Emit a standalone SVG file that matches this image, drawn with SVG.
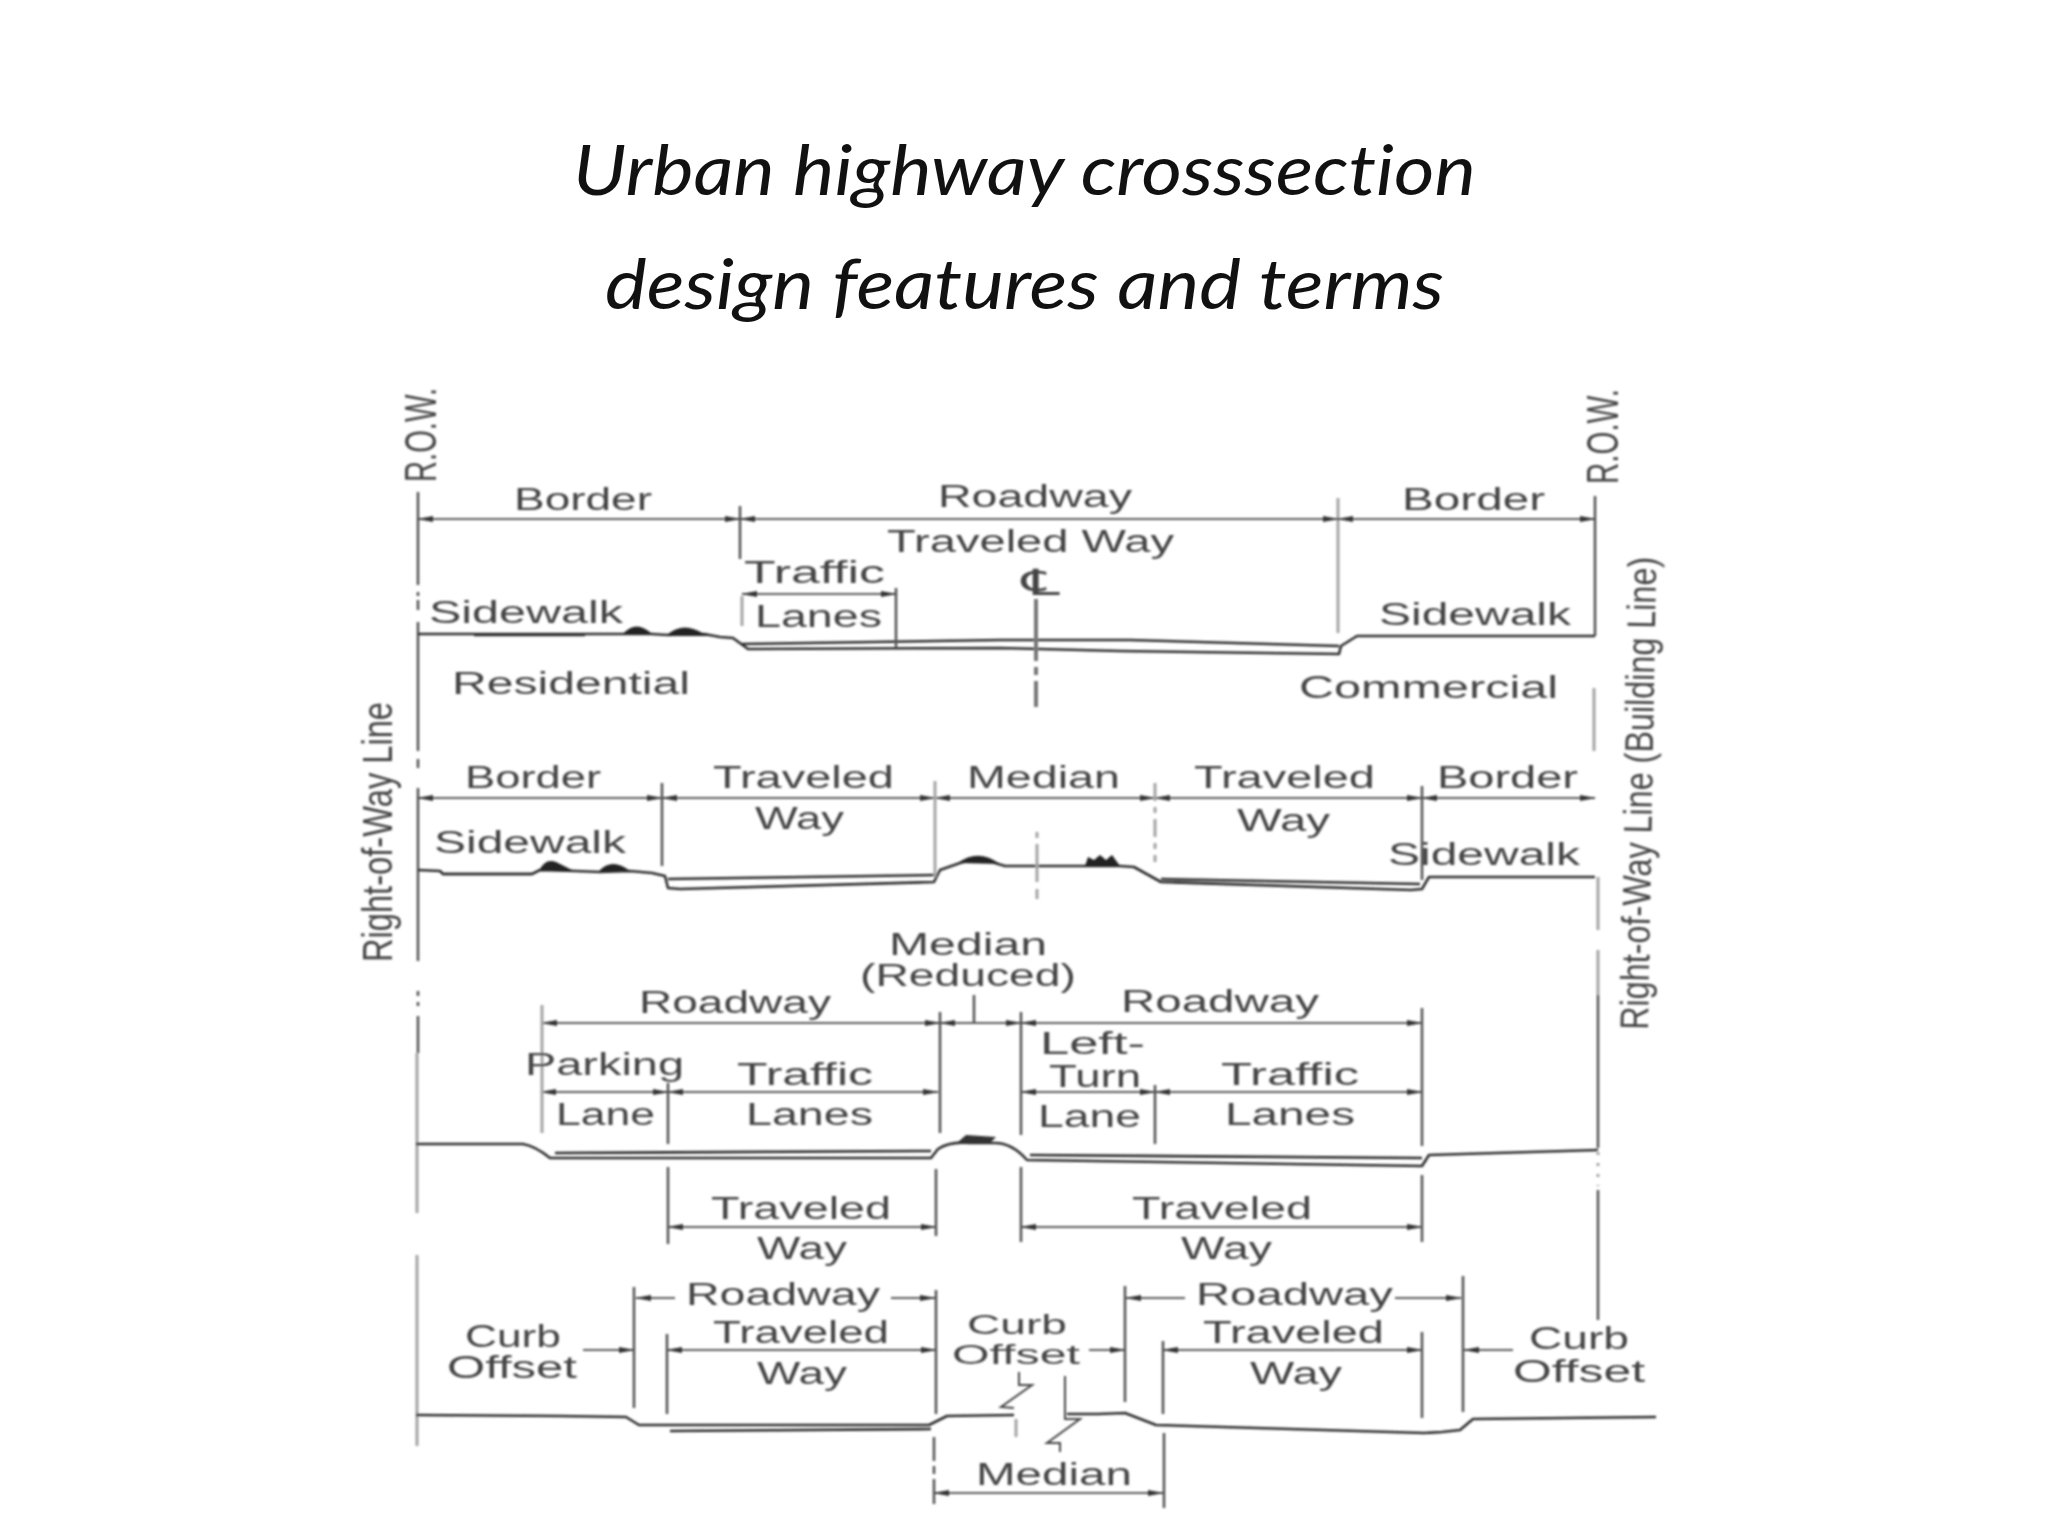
<svg xmlns="http://www.w3.org/2000/svg" width="2048" height="1536" viewBox="0 0 2048 1536">
<style>
.t{font-family:"Liberation Sans",Arial,sans-serif;font-size:31px;fill:#444}
.ti{font-family:Lato,"Open Sans",sans-serif;font-style:italic;font-size:70px;fill:#111;font-variant-ligatures:none}
.g{fill:none;stroke:#2e2e2e;stroke-width:2.6;stroke-linejoin:round}
.d{fill:none;stroke:#5c5c5c;stroke-width:2.2;marker-start:url(#a);marker-end:url(#a)}
.e{fill:none;stroke:#5c5c5c;stroke-width:2.2;marker-end:url(#a)}
.v{fill:none;stroke:#555;stroke-width:2.6}
.l{fill:none;stroke:#a4a4a4;stroke-width:3}
.c{fill:none;stroke:#777;stroke-width:4}
.z{fill:none;stroke:#444;stroke-width:2}
</style>
<defs>
<marker id="a" viewBox="0 0 16 9" refX="15" refY="4.5" markerWidth="16" markerHeight="9" markerUnits="userSpaceOnUse" orient="auto-start-reverse"><path d="M0 1.5L16 4.5L0 7.5Z" fill="#333"/></marker>
<filter id="b" x="-5%" y="-5%" width="110%" height="110%"><feGaussianBlur stdDeviation="1"/></filter>
</defs>
<rect width="2048" height="1536" fill="#fff"/>
<g id="title">
<text class="ti" x="573" y="195" textLength="903" lengthAdjust="spacingAndGlyphs">Urban highway crosssection</text>
<text class="ti" x="605" y="309" textLength="839" lengthAdjust="spacingAndGlyphs">design features and terms</text>
</g>
<g id="drawing" filter="url(#b)">
<g id="row-lines">
<path class="v" d="M418 492V585M418 592V596M418 600V610M418 622V751M418 759V768M418 788V961M418 991V996M418 1002V1006M418 1016V1053"/>
<path class="l" d="M417 1053V1213M417 1255V1446"/>
<path class="v" d="M1595 496V636"/>
<path class="l" d="M1594 688V751M1598 877V930M1598 950V995"/>
<path class="v" d="M1598 995V1148M1598 1190V1320"/>
<path class="l" stroke-dasharray="3 8" d="M1598 1152V1186"/>
</g>
<g id="section-1">
<path class="g" d="M418 634L623 634L652 634L668 635L704 634L720 637L733 638L748 649L1000 648L1120 651L1339 654L1341 646L1357 636L1595 636"/>
<path class="g" d="M742 644L1000 640L1130 640L1339 646"/>
<path fill="#222" d="M623 634Q636 619 652 634ZM668 634Q684 621 704 634L712 636L668 636Z"/>
<path class="g" stroke-width="4" d="M474 635H585"/>
<path class="v" d="M740 506V559M896 588V647"/>
<path class="l" d="M742 596V626M1338 498V633"/>
<path class="d" d="M418 519H740"/>
<path class="d" d="M740 519H1338"/>
<path class="d" d="M1338 519H1595"/>
<path class="d" stroke-width="3" d="M742 594H896"/>
<path class="c" stroke-dasharray="62 6 8 6 26" d="M1036 599V707"/>
<text class="t" x="514" y="510" textLength="138" lengthAdjust="spacingAndGlyphs">Border</text>
<text class="t" x="938" y="507" textLength="194" lengthAdjust="spacingAndGlyphs">Roadway</text>
<text class="t" x="1402" y="510" textLength="143" lengthAdjust="spacingAndGlyphs">Border</text>
<text class="t" x="887" y="552" textLength="287" lengthAdjust="spacingAndGlyphs">Traveled Way</text>
<text class="t" x="744" y="583" textLength="141" lengthAdjust="spacingAndGlyphs">Traffic</text>
<text class="t" x="755" y="627" textLength="127" lengthAdjust="spacingAndGlyphs">Lanes</text>
<text class="t" x="429" y="623" textLength="194" lengthAdjust="spacingAndGlyphs">Sidewalk</text>
<text class="t" x="1379" y="625" textLength="192" lengthAdjust="spacingAndGlyphs">Sidewalk</text>
<text class="t" x="452" y="694" textLength="238" lengthAdjust="spacingAndGlyphs">Residential</text>
<text class="t" x="1299" y="698" textLength="259" lengthAdjust="spacingAndGlyphs">Commercial</text>
<text x="1022" y="595" font-family="'DejaVu Sans',sans-serif" font-size="36" fill="#444" textLength="38" lengthAdjust="spacingAndGlyphs">℄</text>
</g>
<g id="section-2">
<path class="g" d="M418 870L440 871L443 874H532L540 870L575 871L600 872L630 871L652 873L665 876L668 888L680 889L934 882L940 870L960 863L978 858L1005 866L1120 866L1134 867L1161 882L1411 890L1422 889L1429 877L1595 877"/>
<path class="g" d="M668 879L934 875M1161 879L1420 884"/>
<path fill="#222" d="M539 871Q545 858 556 862L574 871ZM599 871Q612 857 630 871ZM958 863Q978 848 1000 864ZM1085 866L1088 857L1094 860L1100 855L1106 860L1112 855L1120 866Z"/>
<path class="g" stroke-width="4" d="M443 874H532"/>
<path class="d" d="M418 798H662"/>
<path class="d" d="M662 798H935"/>
<path class="d" d="M935 798H1155"/>
<path class="d" d="M1155 798H1422"/>
<path class="d" d="M1422 798H1595"/>
<path class="v" d="M662 783V866M1422 786V880"/>
<path class="l" d="M935 781V877"/>
<path class="l" stroke-dasharray="18 6 6 6" d="M1155 783V862"/>
<path class="l" stroke-width="5" stroke-dasharray="6 6 38 7 10" d="M1037 832V899"/>
<text class="t" x="465" y="788" textLength="136" lengthAdjust="spacingAndGlyphs">Border</text>
<text class="t" x="713" y="788" textLength="181" lengthAdjust="spacingAndGlyphs">Traveled</text>
<text class="t" x="755" y="829" textLength="89" lengthAdjust="spacingAndGlyphs">Way</text>
<text class="t" x="967" y="788" textLength="153" lengthAdjust="spacingAndGlyphs">Median</text>
<text class="t" x="1194" y="788" textLength="181" lengthAdjust="spacingAndGlyphs">Traveled</text>
<text class="t" x="1237" y="831" textLength="93" lengthAdjust="spacingAndGlyphs">Way</text>
<text class="t" x="1437" y="788" textLength="141" lengthAdjust="spacingAndGlyphs">Border</text>
<text class="t" x="434" y="853" textLength="192" lengthAdjust="spacingAndGlyphs">Sidewalk</text>
<text class="t" x="1388" y="865" textLength="192" lengthAdjust="spacingAndGlyphs">Sidewalk</text>
</g>
<g id="section-3">
<path class="g" stroke-width="2" d="M416 1144H523Q535 1146 550 1158L931 1158L938 1149Q950 1141 970 1143H995Q1012 1143 1027 1160L1422 1166L1429 1155L1598 1150"/>
<path class="g" d="M555 1153L931 1151M1030 1155L1422 1158"/>
<path fill="#333" d="M958 1142L966 1135L996 1137L990 1143Z"/>
<path class="d" d="M542 1023H940"/>
<path class="d" d="M940 1023H1021"/>
<path class="d" d="M1021 1023H1422"/>
<path class="d" d="M541 1092H668"/>
<path class="d" d="M668 1092H938"/>
<path class="d" d="M1021 1092H1155"/>
<path class="d" d="M1155 1092H1422"/>
<path class="d" d="M668 1227H936"/>
<path class="d" d="M1021 1227H1422"/>
<path class="v" d="M940 1012V1133M1021 1012V1135M668 1083V1144M668 1167V1244M936 1169V1236M1021 1167V1242M1422 1008V1146M1422 1175V1242M1155 1085V1144M974 995V1022"/>
<path class="l" d="M542 1005V1133"/>
<text class="t" x="889" y="955" textLength="158" lengthAdjust="spacingAndGlyphs">Median</text>
<text class="t" x="860" y="986" textLength="216" lengthAdjust="spacingAndGlyphs">(Reduced)</text>
<text class="t" x="639" y="1013" textLength="192" lengthAdjust="spacingAndGlyphs">Roadway</text>
<text class="t" x="1121" y="1012" textLength="198" lengthAdjust="spacingAndGlyphs">Roadway</text>
<text class="t" x="525" y="1075" textLength="159" lengthAdjust="spacingAndGlyphs">Parking</text>
<text class="t" x="737" y="1085" textLength="136" lengthAdjust="spacingAndGlyphs">Traffic</text>
<text class="t" x="556" y="1125" textLength="99" lengthAdjust="spacingAndGlyphs">Lane</text>
<text class="t" x="746" y="1125" textLength="127" lengthAdjust="spacingAndGlyphs">Lanes</text>
<text class="t" x="1040" y="1054" textLength="105" lengthAdjust="spacingAndGlyphs">Left-</text>
<text class="t" x="1049" y="1087" textLength="92" lengthAdjust="spacingAndGlyphs">Turn</text>
<text class="t" x="1038" y="1127" textLength="103" lengthAdjust="spacingAndGlyphs">Lane</text>
<text class="t" x="1221" y="1085" textLength="138" lengthAdjust="spacingAndGlyphs">Traffic</text>
<text class="t" x="1225" y="1125" textLength="130" lengthAdjust="spacingAndGlyphs">Lanes</text>
<text class="t" x="711" y="1219" textLength="180" lengthAdjust="spacingAndGlyphs">Traveled</text>
<text class="t" x="1132" y="1219" textLength="180" lengthAdjust="spacingAndGlyphs">Traveled</text>
<text class="t" x="757" y="1259" textLength="90" lengthAdjust="spacingAndGlyphs">Way</text>
<text class="t" x="1181" y="1259" textLength="91" lengthAdjust="spacingAndGlyphs">Way</text>
</g>
<g id="section-4">
<path class="g" stroke-width="2" d="M416 1415L560 1416L626 1417L639 1425L929 1425L947 1416L1014 1415"/>
<path class="g" d="M670 1431L931 1429"/>
<path class="g" stroke-width="2.4" d="M1067 1414L1098 1414L1125 1413L1156 1425L1424 1433L1442 1432L1460 1430L1473 1419L1656 1417"/>
<path class="z" d="M1019 1372V1385H1032L1001 1407L1014 1408M1065 1376V1419H1080L1047 1443H1060V1452"/>
<path class="l" d="M1016 1419V1437"/>
<path class="d" d="M934 1493H1163"/>
<path class="e" d="M675 1298H636"/>
<path class="e" d="M891 1298H935"/>
<path class="e" d="M1185 1298H1126"/>
<path class="e" d="M1395 1298H1461"/>
<path class="d" d="M667 1350H936"/>
<path class="d" d="M1163 1350H1422"/>
<path class="e" d="M583 1350H634"/>
<path class="e" d="M1089 1350H1125"/>
<path class="e" d="M1513 1350H1464"/>
<path class="v" d="M634 1287V1408M936 1290V1414M667 1334V1414M1125 1286V1402M1163 1341V1414M1422 1332V1418M1463 1276V1412M1164 1433V1508"/>
<path class="v" stroke-dasharray="24 5 8 5 25" d="M934 1437V1504"/>
<text class="t" x="686" y="1305" textLength="194" lengthAdjust="spacingAndGlyphs">Roadway</text>
<text class="t" x="1196" y="1305" textLength="197" lengthAdjust="spacingAndGlyphs">Roadway</text>
<text class="t" x="713" y="1343" textLength="176" lengthAdjust="spacingAndGlyphs">Traveled</text>
<text class="t" x="1203" y="1343" textLength="181" lengthAdjust="spacingAndGlyphs">Traveled</text>
<text class="t" x="757" y="1384" textLength="90" lengthAdjust="spacingAndGlyphs">Way</text>
<text class="t" x="1250" y="1384" textLength="92" lengthAdjust="spacingAndGlyphs">Way</text>
<text class="t" x="465" y="1347" textLength="96" lengthAdjust="spacingAndGlyphs">Curb</text>
<text class="t" x="447" y="1378" textLength="130" lengthAdjust="spacingAndGlyphs">Offset</text>
<text class="t" style="font-size:27px" x="967" y="1334" textLength="100" lengthAdjust="spacingAndGlyphs">Curb</text>
<text class="t" style="font-size:27px" x="952" y="1364" textLength="128" lengthAdjust="spacingAndGlyphs">Offset</text>
<text class="t" x="1529" y="1349" textLength="100" lengthAdjust="spacingAndGlyphs">Curb</text>
<text class="t" x="1513" y="1382" textLength="132" lengthAdjust="spacingAndGlyphs">Offset</text>
<text class="t" x="976" y="1485" textLength="156" lengthAdjust="spacingAndGlyphs">Median</text>
</g>
<g id="side-labels">
<text class="t" style="font-size:44px" transform="translate(436 482) rotate(-90)" textLength="94" lengthAdjust="spacingAndGlyphs">R.O.W.</text>
<text class="t" style="font-size:44px" transform="translate(1618 484) rotate(-90)" textLength="95" lengthAdjust="spacingAndGlyphs">R.O.W.</text>
<text class="t" style="font-size:42px" transform="translate(392 962) rotate(-90)" textLength="260" lengthAdjust="spacingAndGlyphs">Right-of-Way Line</text>
<text class="t" style="font-size:40px" transform="translate(1648 1030) rotate(-89)" textLength="473" lengthAdjust="spacingAndGlyphs">Right-of-Way Line (Building Line)</text>
</g>
</g>
</svg>
